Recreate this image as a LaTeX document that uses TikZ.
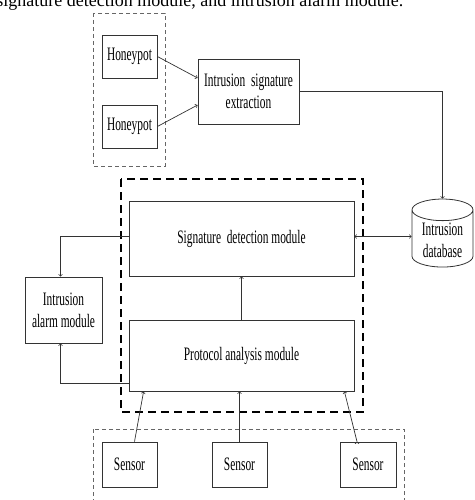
\documentclass[tikz,border=0pt]{standalone}
\usepackage{fontspec}
\setmainfont{Liberation Serif}[FakeStretch=0.6]
\newfontfamily\captionfont{Liberation Serif}
\usetikzlibrary{shapes.geometric}
\begin{document}
\begin{tikzpicture}[x=1pt, y=-1pt, ->, line width=0.7pt,
  main node/.style={rectangle, draw=black!80, line width=0.8pt, align=center, inner sep=1pt},
  group box/.style={draw=black!60, line width=0.8pt, dash pattern=on 4pt off 3pt},
  core box/.style={draw=black, line width=2.4pt, dash pattern=on 8pt off 5pt}]
        \tikzstyle{every node}=[font=\fontsize{19}{22}\selectfont]
        \useasboundingbox (0,0) rectangle (474,500);

          % caption line, cut off at the top
          \node[anchor=base west, inner sep=0pt, font=\captionfont\fontsize{18}{20}\selectfont] (0) at (-4,6.5)
            {signature detection module, and intrusion alarm module.};

          % groups
          \draw[-, group box] (93,13) rectangle (165,166);
          \draw[-, core box] (121,179) rectangle (363,412);
          \draw[-, group box] (93,429) rectangle (404,520);

          \node[main node, minimum width=55, minimum height=43] (1) at (129.5,56.5) {Honeypot};
          \node[main node, minimum width=55, minimum height=43] (2) at (129.5,126.5) {Honeypot};
          \node[main node, minimum width=101, minimum height=65] (3) at (248.5,91.5) {Intrusion\ \ signature\\extraction};
          \node[cylinder, shape border rotate=90, draw=black!80, line width=0.8pt, align=center,
                minimum width=61, minimum height=68, aspect=0.5, inner sep=1pt] (4) at (442.5,240) {Intrusion\\database};
          \node[main node, minimum width=225, minimum height=75] (5) at (241.5,238.5) {Signature\ \ detection module};
          \node[main node, minimum width=225, minimum height=71] (6) at (241.5,355.5) {Protocol analysis module};
          \node[main node, minimum width=77, minimum height=66] (7) at (63.5,310) {Intrusion\\alarm module};
          \node[main node, minimum width=55, minimum height=45] (8) at (129.5,464.5) {Sensor};
          \node[main node, minimum width=55, minimum height=45] (9) at (239.5,464.5) {Sensor};
          \node[main node, minimum width=56, minimum height=45] (10) at (368,464.5) {Sensor};

          \path[draw=black!80]
            (1.east) edge ([yshift=13.5pt]3.west)
            (2.east) edge ([yshift=-13.5pt]3.west)
            (6.north) edge (5.south)
            ([xshift=5pt]8.north) edge ([xshift=15pt]6.south west)
            (9.north) edge (9.north |- 6.south)
            ([xshift=-11pt]10.north) edge ([xshift=-10pt]6.south east);
          \draw[draw=black!80] (3.east) -| (4.north);
          \draw[<->, draw=black!80] ([yshift=2pt]5.east) -- ([yshift=2pt]5.east -| 4.west);
          \draw[draw=black!80] ([yshift=2pt]5.west) -| ([xshift=-3pt]7.north);
          \draw[draw=black!80] ([yshift=-28pt]6.west) -| ([xshift=-3pt]7.south);

        \end{tikzpicture}
\end{document}
